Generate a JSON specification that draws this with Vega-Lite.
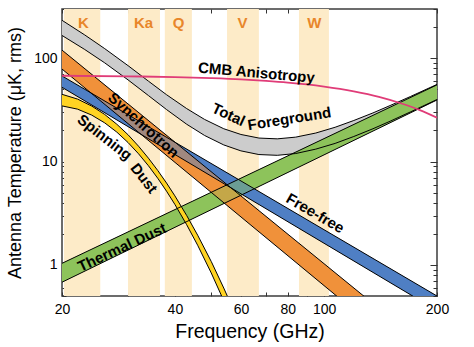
{
  "$schema": "https://vega.github.io/schema/vega-lite/v6.json",
  "width": 375,
  "height": 287,
  "autosize": {"type": "none"},
  "padding": {"left": 62, "top": 9, "right": 37, "bottom": 51},
  "background": "white",
  "config": {
    "font": "Liberation Sans",
    "view": {"stroke": "#3c3c3c", "strokeWidth": 1.5},
    "axis": {"grid": false, "domain": false, "labelColor": "black", "titleColor": "black", "tickColor": "#333333", "labelFont": "Liberation Sans", "titleFont": "Liberation Sans", "titleFontWeight": "normal", "labelFlush": false}
  },
  "resolve": {"axis": {"x": "independent", "y": "independent"}},
  "datasets": {
    "bands": [
      {"band": "K", "f1": 20.25, "f2": 25.3, "fc": 22.8},
      {"band": "Ka", "f1": 30.0, "f2": 36.5, "fc": 33.0},
      {"band": "Q", "f1": 37.6, "f2": 44.4, "fc": 40.9},
      {"band": "V", "f1": 55.1, "f2": 67.0, "fc": 60.6},
      {"band": "W", "f1": 85.7, "f2": 103.0, "fc": 94.2}
    ],
    "comps": [
      {"c": "total", "f": 20, "lo": 166.4, "hi": 233.3},
      {"c": "total", "f": 23, "lo": 121.6, "hi": 168.2},
      {"c": "total", "f": 26, "lo": 90.3, "hi": 124.0},
      {"c": "total", "f": 30, "lo": 61.8, "hi": 84.9},
      {"c": "total", "f": 34, "lo": 43.6, "hi": 60.1},
      {"c": "total", "f": 38, "lo": 31.9, "hi": 44.4},
      {"c": "total", "f": 43, "lo": 23.0, "hi": 32.6},
      {"c": "total", "f": 48, "lo": 17.9, "hi": 25.6},
      {"c": "total", "f": 54, "lo": 14.5, "hi": 20.8},
      {"c": "total", "f": 60, "lo": 12.7, "hi": 18.3},
      {"c": "total", "f": 67, "lo": 11.7, "hi": 16.9},
      {"c": "total", "f": 75, "lo": 11.5, "hi": 16.6},
      {"c": "total", "f": 84, "lo": 11.97, "hi": 17.25},
      {"c": "total", "f": 95, "lo": 13.2, "hi": 18.9},
      {"c": "total", "f": 107, "lo": 15.0, "hi": 21.5},
      {"c": "total", "f": 120, "lo": 17.5, "hi": 25.0},
      {"c": "total", "f": 135, "lo": 20.8, "hi": 29.6},
      {"c": "total", "f": 150, "lo": 24.6, "hi": 34.9},
      {"c": "total", "f": 170, "lo": 30.3, "hi": 42.7},
      {"c": "total", "f": 200, "lo": 39.9, "hi": 55.9},
      {"c": "sync", "f": 20, "lo": 78.7, "hi": 120},
      {"c": "sync", "f": 200, "lo": 0.0787, "hi": 0.132},
      {"c": "ff", "f": 20, "lo": 52.4, "hi": 67.5},
      {"c": "ff", "f": 200, "lo": 0.362, "hi": 0.5},
      {"c": "td", "f": 20, "lo": 0.68, "hi": 1.036},
      {"c": "td", "f": 200, "lo": 39.5, "hi": 55.3},
      {"c": "sd", "f": 20, "lo": 34.6, "hi": 44.8},
      {"c": "sd", "f": 22, "lo": 32.2, "hi": 40.3},
      {"c": "sd", "f": 24, "lo": 28.2, "hi": 34.5},
      {"c": "sd", "f": 26, "lo": 23.7, "hi": 28.6},
      {"c": "sd", "f": 28, "lo": 19.3, "hi": 23.0},
      {"c": "sd", "f": 30, "lo": 15.3, "hi": 18.2},
      {"c": "sd", "f": 32, "lo": 11.9, "hi": 14.1},
      {"c": "sd", "f": 34, "lo": 9.12, "hi": 10.8},
      {"c": "sd", "f": 36, "lo": 6.9, "hi": 8.21},
      {"c": "sd", "f": 38, "lo": 5.17, "hi": 6.2},
      {"c": "sd", "f": 40, "lo": 3.85, "hi": 4.66},
      {"c": "sd", "f": 43, "lo": 2.45, "hi": 3.01},
      {"c": "sd", "f": 46, "lo": 1.55, "hi": 1.94},
      {"c": "sd", "f": 50, "lo": 0.836, "hi": 1.08},
      {"c": "sd", "f": 54, "lo": 0.45, "hi": 0.597},
      {"c": "sd", "f": 58, "lo": 0.243, "hi": 0.333}
    ],
    "cmb": [
      {"f": 20, "T": 67.8}, {"f": 30, "T": 66.9}, {"f": 40, "T": 65.7}, {"f": 50, "T": 64.2},
      {"f": 60, "T": 62.5}, {"f": 70, "T": 60.4}, {"f": 80, "T": 58.2}, {"f": 90, "T": 55.8},
      {"f": 100, "T": 53.2}, {"f": 120, "T": 47.8}, {"f": 140, "T": 42.3}, {"f": 160, "T": 36.7},
      {"f": 180, "T": 31.5}, {"f": 200, "T": 26.6}
    ],
    "labels": [
      {"name": "CMB Anisotropy", "f": 66.0, "T": 72.6},
      {"name": "Total", "f": 55.6, "T": 28.5},
      {"name": "Foreground", "f": 80.8, "T": 26.0},
      {"name": "Synchrotron", "f": 33.0, "T": 22.6},
      {"name": "Spinning", "f": 26.0, "T": 17.2},
      {"name": "Dust", "f": 33.1, "T": 6.9},
      {"name": "Thermal Dust", "f": 28.9, "T": 1.48},
      {"name": "Free-free", "f": 94.7, "T": 3.16}
    ]
  },
  "layer": [
    {
      "data": {"name": "bands"},
      "mark": {"type": "rect", "color": "#FDEBC8"},
      "encoding": {
        "x": {"field": "f1", "type": "quantitative", "scale": {"type": "log", "domain": [20, 200], "nice": false},
          "axis": {"orient": "bottom", "values": [20, 40, 60, 80, 100, 200], "format": "d", "ticks": false, "labelPadding": 6, "labelFontSize": 14, "labelFlush": false, "title": "Frequency (GHz)", "titleFontSize": 19.5, "titlePadding": 6}},
        "x2": {"field": "f2"}
      }
    },
    {
      "data": {"name": "bands"},
      "mark": {"type": "text", "color": "#E8862A", "fontWeight": "bold", "fontSize": 15, "font": "Liberation Sans", "baseline": "middle", "align": "center"},
      "encoding": {
        "x": {"field": "fc", "type": "quantitative", "scale": {"type": "log", "domain": [20, 200], "nice": false}, "axis": null},
        "y": {"datum": 222, "type": "quantitative", "scale": {"type": "log", "domain": [0.5, 300], "nice": false}, "axis": null},
        "text": {"field": "band"}
      }
    },
    {
      "data": {"name": "comps"},
      "transform": [{"filter": "datum.c === 'total'"}],
      "mark": {"type": "area", "color": "#CCCCCC", "opacity": 1, "clip": true},
      "encoding": {
        "x": {"field": "f", "type": "quantitative", "scale": {"type": "log", "domain": [20, 200], "nice": false},
          "axis": {"orient": "bottom", "values": [20, 30, 40, 50, 60, 70, 80, 90, 100, 200], "labels": false, "tickSize": -4, "title": null}},
        "y": {"field": "lo", "type": "quantitative", "scale": {"type": "log", "domain": [0.5, 300], "nice": false},
          "axis": {"orient": "left", "values": [1, 10, 100], "format": "d", "ticks": false, "labelPadding": 5, "labelFontSize": 14, "title": "Antenna Temperature (μK, rms)", "titleFontSize": 18, "titlePadding": 9}},
        "y2": {"field": "hi"}
      }
    },
    {
      "data": {"name": "comps"},
      "transform": [{"filter": "datum.c === 'td'"}],
      "mark": {"type": "area", "color": "#8DC35C", "clip": true},
      "encoding": {
        "x": {"field": "f", "type": "quantitative", "scale": {"type": "log", "domain": [20, 200], "nice": false},
          "axis": {"orient": "top", "values": [20, 30, 40, 50, 60, 70, 80, 90, 100, 200], "labels": false, "tickSize": -4, "title": null}},
        "y": {"field": "lo", "type": "quantitative", "scale": {"type": "log", "domain": [0.5, 300], "nice": false},
          "axis": {"orient": "left", "values": [1, 10, 100], "labels": false, "tickSize": -7, "title": null}},
        "y2": {"field": "hi"}
      }
    },
    {
      "data": {"name": "comps"},
      "transform": [{"filter": "datum.c === 'ff'"}],
      "mark": {"type": "area", "color": "#4F7FC4", "clip": true},
      "encoding": {
        "x": {"field": "f", "type": "quantitative", "scale": {"type": "log", "domain": [20, 200], "nice": false}, "axis": null},
        "y": {"field": "lo", "type": "quantitative", "scale": {"type": "log", "domain": [0.5, 300], "nice": false},
          "axis": {"orient": "right", "values": [1, 10, 100], "labels": false, "tickSize": -7, "title": null}},
        "y2": {"field": "hi"}
      }
    },
    {
      "data": {"name": "comps"},
      "transform": [{"filter": "datum.c === 'sync'"}],
      "mark": {"type": "area", "color": "#F0913A", "clip": true},
      "encoding": {
        "x": {"field": "f", "type": "quantitative", "scale": {"type": "log", "domain": [20, 200], "nice": false}, "axis": null},
        "y": {"field": "lo", "type": "quantitative", "scale": {"type": "log", "domain": [0.5, 300], "nice": false},
          "axis": {"orient": "left", "values": [0.5, 0.6, 0.7, 0.8, 0.9, 2, 3, 4, 5, 6, 7, 8, 9, 20, 30, 40, 50, 60, 70, 80, 90, 200, 300], "labels": false, "tickSize": -4, "title": null}},
        "y2": {"field": "hi"}
      }
    },
    {
      "data": {"name": "comps"},
      "transform": [{"filter": "datum.c === 'ff'"}],
      "mark": {"type": "area", "color": "#4F7FC4", "opacity": 0.5, "clip": true},
      "encoding": {
        "x": {"field": "f", "type": "quantitative", "scale": {"type": "log", "domain": [20, 200], "nice": false}, "axis": null},
        "y": {"field": "lo", "type": "quantitative", "scale": {"type": "log", "domain": [0.5, 300], "nice": false},
          "axis": {"orient": "right", "values": [0.5, 0.6, 0.7, 0.8, 0.9, 2, 3, 4, 5, 6, 7, 8, 9, 20, 30, 40, 50, 60, 70, 80, 90, 200, 300], "labels": false, "tickSize": -4, "title": null}},
        "y2": {"field": "hi"}
      }
    },
    {
      "data": {"name": "comps"},
      "transform": [{"filter": "datum.c === 'td'"}],
      "mark": {"type": "area", "color": "#8DC35C", "opacity": 0.45, "clip": true},
      "encoding": {
        "x": {"field": "f", "type": "quantitative", "scale": {"type": "log", "domain": [20, 200], "nice": false}, "axis": null},
        "y": {"field": "lo", "type": "quantitative", "scale": {"type": "log", "domain": [0.5, 300], "nice": false}, "axis": null},
        "y2": {"field": "hi"}
      }
    },
    {
      "data": {"name": "comps"},
      "transform": [{"filter": "datum.c === 'sd'"}],
      "mark": {"type": "area", "color": "#FFD322", "clip": true},
      "encoding": {
        "x": {"field": "f", "type": "quantitative", "scale": {"type": "log", "domain": [20, 200], "nice": false}, "axis": null},
        "y": {"field": "lo", "type": "quantitative", "scale": {"type": "log", "domain": [0.5, 300], "nice": false}, "axis": null},
        "y2": {"field": "hi"}
      }
    },
    {
      "data": {"name": "comps"},
      "mark": {"type": "line", "color": "black", "strokeWidth": 1, "clip": true},
      "encoding": {
        "x": {"field": "f", "type": "quantitative", "scale": {"type": "log", "domain": [20, 200], "nice": false}, "axis": null},
        "y": {"field": "lo", "type": "quantitative", "scale": {"type": "log", "domain": [0.5, 300], "nice": false}, "axis": null},
        "detail": {"field": "c"}
      }
    },
    {
      "data": {"name": "comps"},
      "mark": {"type": "line", "color": "black", "strokeWidth": 1, "clip": true},
      "encoding": {
        "x": {"field": "f", "type": "quantitative", "scale": {"type": "log", "domain": [20, 200], "nice": false}, "axis": null},
        "y": {"field": "hi", "type": "quantitative", "scale": {"type": "log", "domain": [0.5, 300], "nice": false}, "axis": null},
        "detail": {"field": "c"}
      }
    },
    {
      "data": {"name": "cmb"},
      "mark": {"type": "line", "color": "#E03C78", "strokeWidth": 1.8, "clip": true, "interpolate": "monotone"},
      "encoding": {
        "x": {"field": "f", "type": "quantitative", "scale": {"type": "log", "domain": [20, 200], "nice": false}, "axis": null},
        "y": {"field": "T", "type": "quantitative", "scale": {"type": "log", "domain": [0.5, 300], "nice": false}, "axis": null}
      }
    },
    {"data": {"name": "labels"}, "transform": [{"filter": "datum.name === 'CMB Anisotropy'"}],
      "mark": {"type": "text", "angle": 5, "fontSize": 15, "fontWeight": "bold", "font": "Liberation Sans", "color": "black", "baseline": "middle", "align": "center"},
      "encoding": {"x": {"field": "f", "type": "quantitative", "scale": {"type": "log", "domain": [20, 200], "nice": false}, "axis": null},
        "y": {"field": "T", "type": "quantitative", "scale": {"type": "log", "domain": [0.5, 300], "nice": false}, "axis": null}, "text": {"field": "name"}}},
    {"data": {"name": "labels"}, "transform": [{"filter": "datum.name === 'Total'"}],
      "mark": {"type": "text", "angle": 25, "fontSize": 15, "fontWeight": "bold", "font": "Liberation Sans", "color": "black", "baseline": "middle", "align": "center"},
      "encoding": {"x": {"field": "f", "type": "quantitative", "scale": {"type": "log", "domain": [20, 200], "nice": false}, "axis": null},
        "y": {"field": "T", "type": "quantitative", "scale": {"type": "log", "domain": [0.5, 300], "nice": false}, "axis": null}, "text": {"field": "name"}}},
    {"data": {"name": "labels"}, "transform": [{"filter": "datum.name === 'Foreground'"}],
      "mark": {"type": "text", "angle": -9, "fontSize": 15, "fontWeight": "bold", "font": "Liberation Sans", "color": "black", "baseline": "middle", "align": "center"},
      "encoding": {"x": {"field": "f", "type": "quantitative", "scale": {"type": "log", "domain": [20, 200], "nice": false}, "axis": null},
        "y": {"field": "T", "type": "quantitative", "scale": {"type": "log", "domain": [0.5, 300], "nice": false}, "axis": null}, "text": {"field": "name"}}},
    {"data": {"name": "labels"}, "transform": [{"filter": "datum.name === 'Synchrotron'"}],
      "mark": {"type": "text", "angle": 42, "fontSize": 15, "fontWeight": "bold", "font": "Liberation Sans", "color": "black", "baseline": "middle", "align": "center"},
      "encoding": {"x": {"field": "f", "type": "quantitative", "scale": {"type": "log", "domain": [20, 200], "nice": false}, "axis": null},
        "y": {"field": "T", "type": "quantitative", "scale": {"type": "log", "domain": [0.5, 300], "nice": false}, "axis": null}, "text": {"field": "name"}}},
    {"data": {"name": "labels"}, "transform": [{"filter": "datum.name === 'Spinning'"}],
      "mark": {"type": "text", "angle": 38, "fontSize": 15, "fontWeight": "bold", "font": "Liberation Sans", "color": "black", "baseline": "middle", "align": "center"},
      "encoding": {"x": {"field": "f", "type": "quantitative", "scale": {"type": "log", "domain": [20, 200], "nice": false}, "axis": null},
        "y": {"field": "T", "type": "quantitative", "scale": {"type": "log", "domain": [0.5, 300], "nice": false}, "axis": null}, "text": {"field": "name"}}},
    {"data": {"name": "labels"}, "transform": [{"filter": "datum.name === 'Dust'"}],
      "mark": {"type": "text", "angle": 52, "fontSize": 15, "fontWeight": "bold", "font": "Liberation Sans", "color": "black", "baseline": "middle", "align": "center"},
      "encoding": {"x": {"field": "f", "type": "quantitative", "scale": {"type": "log", "domain": [20, 200], "nice": false}, "axis": null},
        "y": {"field": "T", "type": "quantitative", "scale": {"type": "log", "domain": [0.5, 300], "nice": false}, "axis": null}, "text": {"field": "name"}}},
    {"data": {"name": "labels"}, "transform": [{"filter": "datum.name === 'Thermal Dust'"}],
      "mark": {"type": "text", "angle": -25, "fontSize": 15, "fontWeight": "bold", "font": "Liberation Sans", "color": "black", "baseline": "middle", "align": "center"},
      "encoding": {"x": {"field": "f", "type": "quantitative", "scale": {"type": "log", "domain": [20, 200], "nice": false}, "axis": null},
        "y": {"field": "T", "type": "quantitative", "scale": {"type": "log", "domain": [0.5, 300], "nice": false}, "axis": null}, "text": {"field": "name"}}},
    {"data": {"name": "labels"}, "transform": [{"filter": "datum.name === 'Free-free'"}],
      "mark": {"type": "text", "angle": 30, "fontSize": 15, "fontWeight": "bold", "font": "Liberation Sans", "color": "black", "baseline": "middle", "align": "center"},
      "encoding": {"x": {"field": "f", "type": "quantitative", "scale": {"type": "log", "domain": [20, 200], "nice": false}, "axis": null},
        "y": {"field": "T", "type": "quantitative", "scale": {"type": "log", "domain": [0.5, 300], "nice": false}, "axis": null}, "text": {"field": "name"}}}
  ]
}
